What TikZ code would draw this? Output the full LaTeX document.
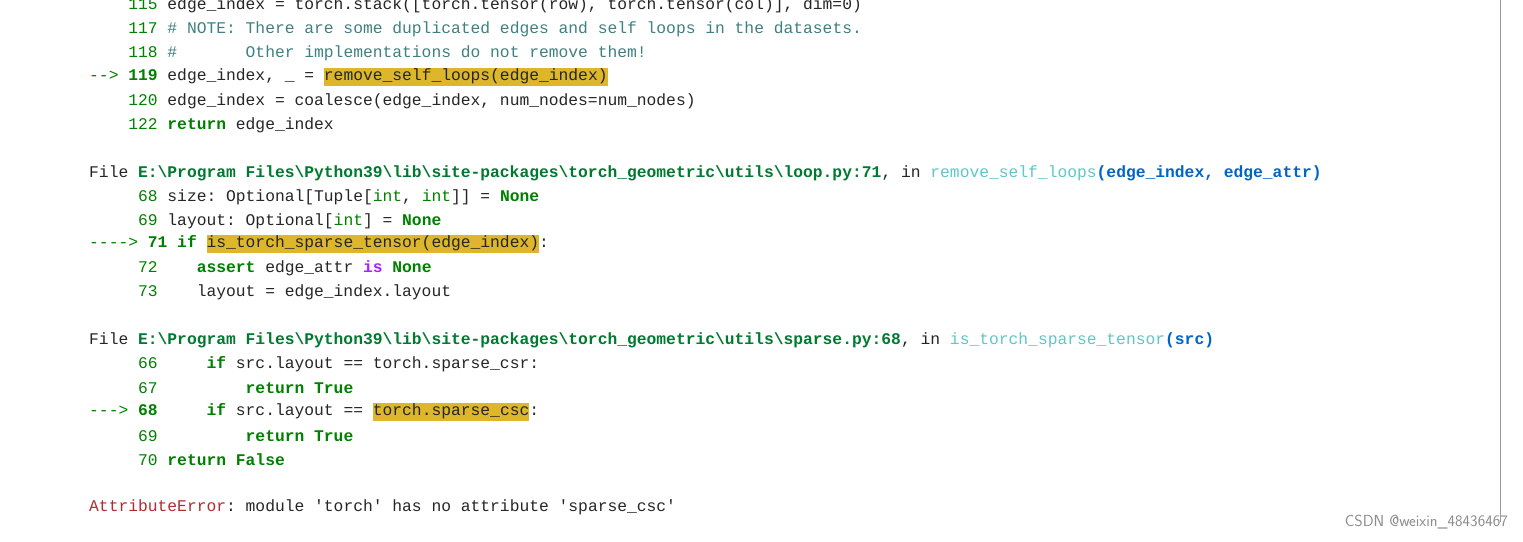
\documentclass[tikz,border=0pt]{standalone}
\usepackage{fontspec}
\setmonofont{Liberation Mono}
\definecolor{lnum}{HTML}{008000}
\definecolor{kw}{HTML}{008000}
\definecolor{cmt}{HTML}{408080}
\definecolor{path}{HTML}{007A30}
\definecolor{fn}{HTML}{60C6C8}
\definecolor{arg}{HTML}{0065CA}
\definecolor{hl}{HTML}{DDB62B}
\definecolor{prp}{HTML}{AA22FF}
\definecolor{err}{HTML}{B22B31}
\newcommand\us{\_}
\newcommand\bs{\textbackslash}
\newcommand\hlt[1]{{\setlength\fboxsep{0pt}\colorbox{hl}{\strut #1}}}
\newcommand\K[1]{\textcolor{kw}{\bfseries #1}}
\newcommand\N[1]{\textcolor{lnum}{#1}}
\newcommand\NB[1]{\textcolor{lnum}{\bfseries #1}}
\tikzset{ln/.style={anchor=west,inner sep=0pt,font=\ttfamily\fontsize{16.3}{18}\selectfont,text=black!85}}
\begin{document}
\begin{tikzpicture}[x=1pt,y=-1pt]
\useasboundingbox[fill=white] (0,0) rectangle (1523,541);
\draw[black!40,line width=1pt] (1500,0) -- (1500,522);
\node[ln] (l1) at (89,5) {\N{\ \ \ \ 115} edge\us index = torch.stack([torch.tensor(row), torch.tensor(col)], dim=0)};
\node[ln] (l2) at (89,29) {\N{\ \ \ \ 117} \textcolor{cmt}{\# NOTE: There are some duplicated edges and self loops in the datasets.}};
\node[ln] (l3) at (89,53) {\N{\ \ \ \ 118} \textcolor{cmt}{\#\ \ \ \ \ \ \ Other implementations do not remove them!}};
\node[ln] (l4) at (89,77) {\N{-->} \NB{119} edge\us index, \us\ = \hlt{remove\us self\us loops(edge\us index)}};
\node[ln] (l5) at (89,101) {\N{\ \ \ \ 120} edge\us index = coalesce(edge\us index, num\us nodes=num\us nodes)};
\node[ln] (l6) at (89,125) {\N{\ \ \ \ 122} \K{return} edge\us index};
\node[ln] (l7) at (89,173) {File \textcolor{path}{\bfseries E:\bs Program Files\bs Python39\bs lib\bs site-packages\bs torch\us geometric\bs utils\bs loop.py:71}, in \textcolor{fn}{remove\us self\us loops}\textcolor{arg}{\bfseries(edge\us index, edge\us attr)}};
\node[ln] (l8) at (89,197) {\N{\ \ \ \ \ 68} size: Optional[Tuple[\textcolor{kw}{int}, \textcolor{kw}{int}]] = \K{None}};
\node[ln] (l9) at (89,221) {\N{\ \ \ \ \ 69} layout: Optional[\textcolor{kw}{int}] = \K{None}};
\node[ln] (l10) at (89,244) {\N{---->} \NB{71} \K{if} \hlt{is\us torch\us sparse\us tensor(edge\us index)}:};
\node[ln] (l11) at (89,268) {\N{\ \ \ \ \ 72} \ \ \ \K{assert} edge\us attr \textcolor{prp}{\bfseries is} \K{None}};
\node[ln] (l12) at (89,292) {\N{\ \ \ \ \ 73} \ \ \ layout = edge\us index.layout};
\node[ln] (l13) at (89,340) {File \textcolor{path}{\bfseries E:\bs Program Files\bs Python39\bs lib\bs site-packages\bs torch\us geometric\bs utils\bs sparse.py:68}, in \textcolor{fn}{is\us torch\us sparse\us tensor}\textcolor{arg}{\bfseries(src)}};
\node[ln] (l14) at (89,364) {\N{\ \ \ \ \ 66} \ \ \ \ \K{if} src.layout == torch.sparse\us csr:};
\node[ln] (l15) at (89,388) {\N{\ \ \ \ \ 67} \ \ \ \ \ \ \ \ \K{return} \K{True}};
\node[ln] (l16) at (89,412) {\N{--->} \NB{68} \ \ \ \ \K{if} src.layout == \hlt{torch.sparse\us csc}:};
\node[ln] (l17) at (89,436) {\N{\ \ \ \ \ 69} \ \ \ \ \ \ \ \ \K{return} \K{True}};
\node[ln] (l18) at (89,460) {\N{\ \ \ \ \ 70} \K{return} \K{False}};
\node[ln] (l19) at (89,507) {\textcolor{err}{AttributeError}: module 'torch' has no attribute 'sparse\us csc'};
\node[anchor=east,inner sep=0pt,font=\sffamily\fontsize{16}{18}\selectfont,text=black!45] (wm) at (1508,522) {CSDN @weixin\_48436467};
\end{tikzpicture}
\end{document}
